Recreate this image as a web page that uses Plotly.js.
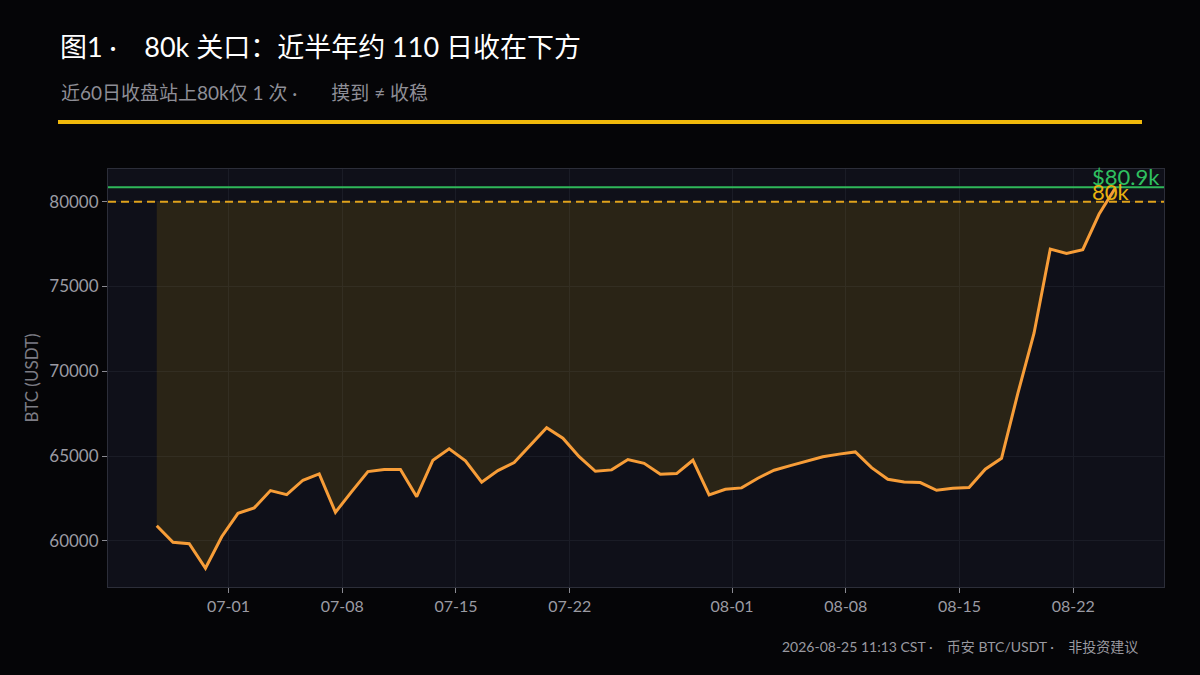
<!DOCTYPE html>
<html>
<head>
<meta charset="utf-8">
<script src="https://cdn.plot.ly/plotly-3.0.1.min.js"></script>
<style>
  html, body { margin: 0; padding: 0; background: #050507; }
  #plot { width: 1200px; height: 675px; }
</style>
</head>
<body>
<div id="plot"></div>
<script>
// 60 daily closes, 06-26 .. 08-24
const startDay = '2026-06-26'
const closes = [
  60900, 59920, 59840, 58390, 60250, 61630, 61950, 62970, 62730, 63580,
  63950, 61690, 62910, 64090, 64210, 64210, 62610, 64760, 65430, 64720,
  63460, 64150, 64620, 65650, 66680, 66060, 64970, 64110, 64190, 64800,
  64580, 63940, 63970, 64760, 62710, 63050, 63130, 63700, 64170, 64440,
  64680, 64960, 65120, 65250, 64320, 63640, 63480, 63440, 62990, 63110,
  63150, 64230, 64870, 68680, 72250, 77210, 76950, 77170, 79260, 80810
]
const level = 80000
const lastPrice = 80850
const yTicks = [60000, 65000, 70000, 75000, 80000]
const tickDays = ['2026-07-01', '2026-07-08', '2026-07-15', '2026-07-22',
  '2026-08-01', '2026-08-08', '2026-08-15', '2026-08-22']
const tickText = ['07-01', '07-08', '07-15', '07-22', '08-01', '08-08', '08-15', '08-22']

const DAY = 86400000
const t0 = Date.parse(startDay + 'T14:00:00Z')
const fmt = ms => new Date(ms).toISOString().slice(0, 19).replace('T', ' ')
const dates = closes.map((_, i) => fmt(t0 + i * DAY))
const xRange = [fmt(t0 - 3 * DAY), fmt(t0 + (closes.length + 2) * DAY)]

const font = 'Lato, "Noto Sans CJK SC", sans-serif'
const grey = '#9b9ba3'
const sp = '\u00a0'

const traces = [
  {
    x: dates,
    y: dates.map(() => level),
    type: 'scatter',
    mode: 'lines',
    line: { width: 0 },
    hoverinfo: 'skip',
    showlegend: false
  },
  {
    x: dates,
    y: closes,
    type: 'scatter',
    mode: 'lines',
    fill: 'tonexty',
    fillcolor: 'rgba(240,185,11,0.12)',
    line: { color: '#f79d38', width: 3 },
    showlegend: false
  }
]

const layout = {
  width: 1200,
  height: 675,
  paper_bgcolor: '#050507',
  plot_bgcolor: '#0f1019',
  margin: { l: 108, r: 36, t: 169, b: 88 },
  font: { family: font, color: grey, size: 16 },
  title: {
    text: '图1 ·' + sp.repeat(4) + '80k 关口：近半年约 110 日收在下方',
    font: { family: font, size: 27, color: '#ffffff' },
    xref: 'container', x: 0.05, xanchor: 'left',
    yref: 'container', y: 1 - 48 / 675, yanchor: 'middle'
  },
  xaxis: {
    type: 'date',
    range: xRange,
    tickvals: tickDays,
    ticktext: tickText,
    ticks: 'outside',
    ticklen: 5,
    tickcolor: '#8a8a92',
    tickfont: { size: 16, color: grey },
    showgrid: true,
    gridcolor: '#1a1c26',
    showline: true,
    mirror: true,
    linecolor: '#2c2e39',
    zeroline: false
  },
  yaxis: {
    range: [57286, 81929],
    tickvals: yTicks,
    ticktext: yTicks.map(String),
    ticks: 'outside',
    ticklen: 5,
    tickcolor: '#8a8a92',
    tickfont: { size: 17, color: grey },
    title: { text: 'BTC (USDT)', font: { size: 17, color: '#7d7d85' }, standoff: 6 },
    showgrid: true,
    gridcolor: '#1a1c26',
    showline: true,
    mirror: true,
    linecolor: '#2c2e39',
    zeroline: false
  },
  shapes: [
    {
      type: 'line', xref: 'x domain', yref: 'y', x0: 0, x1: 1, y0: lastPrice, y1: lastPrice,
      line: { color: '#2fb85a', width: 2 }
    },
    {
      type: 'line', xref: 'x domain', yref: 'y', x0: 0, x1: 1, y0: level, y1: level,
      line: { color: '#e0a21c', width: 2, dash: '8px,5px' }
    },
    {
      type: 'rect', xref: 'paper', yref: 'paper',
      x0: (58 - 108) / 1056, x1: (1142 - 108) / 1056,
      y0: (587 - 124) / 418, y1: (587 - 120) / 418,
      fillcolor: '#f0b90b', line: { width: 0 }
    }
  ],
  annotations: [
    {
      text: '近60日收盘站上80k仅 1 次 ·' + sp.repeat(7) + '摸到 ≠ 收稳',
      xref: 'paper', yref: 'paper', x: (59 - 108) / 1056, y: (587 - 92) / 418,
      xanchor: 'left', yanchor: 'middle', showarrow: false,
      font: { size: 19, color: '#8e8e96' }
    },
    {
      text: '$80.9k',
      xref: 'x domain', yref: 'y', x: 0.93, y: lastPrice,
      xanchor: 'left', yanchor: 'bottom', yshift: -5, showarrow: false,
      font: { size: 22, color: '#2fc060' }
    },
    {
      text: '80k',
      xref: 'x domain', yref: 'y', x: 0.93, y: level,
      xanchor: 'left', yanchor: 'bottom', yshift: -5, showarrow: false,
      font: { size: 22, color: '#e8b10f' }
    },
    {
      text: '2026-08-25 11:13 CST ·' + sp.repeat(4) + '币安 BTC/USDT ·' + sp.repeat(4) + '非投资建议',
      xref: 'paper', yref: 'paper', x: (1140 - 108) / 1056, y: (587 - 646) / 418,
      xanchor: 'right', yanchor: 'middle', showarrow: false,
      font: { size: 14, color: '#9a9aa0' }
    }
  ]
}

Plotly.newPlot('plot', traces, layout, { displayModeBar: false, staticPlot: true })
</script>
</body>
</html>
